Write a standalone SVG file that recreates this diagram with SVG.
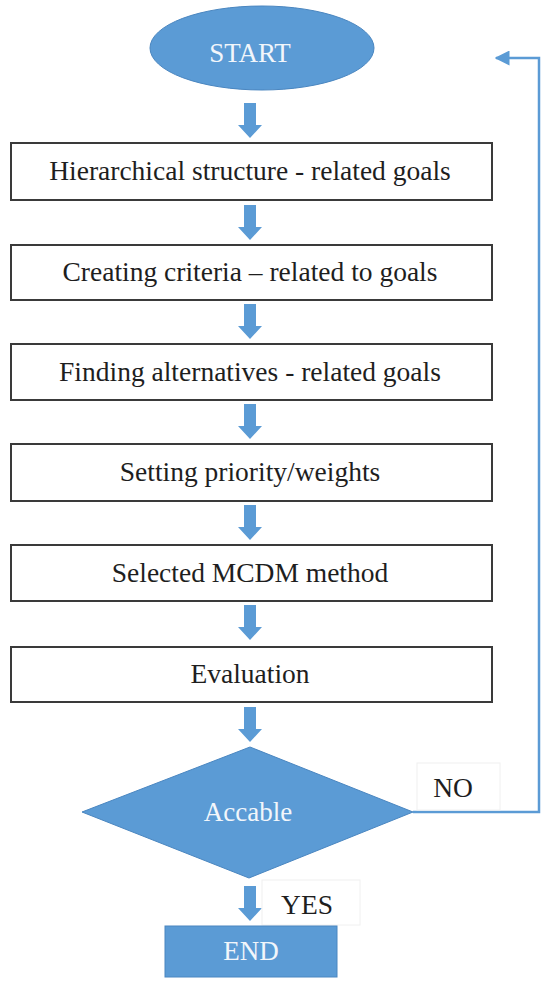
<svg xmlns="http://www.w3.org/2000/svg" width="550" height="988" viewBox="0 0 550 988">
<style>
.box{fill:#ffffff;stroke:#3a3a3a;stroke-width:2}
.shadow{fill:none;stroke:#9a9a9a;stroke-width:1.5}
.blue{fill:#5b9bd5;stroke:#4a86c0;stroke-width:1}
.t{font-family:"Liberation Serif","Times New Roman",serif;font-size:27.5px;fill:#1e1e1e;text-anchor:middle}
.tw{font-family:"Liberation Serif","Times New Roman",serif;font-size:27px;fill:#f2f6fb;text-anchor:middle}
.lbl{fill:#ffffff;stroke:#f0f0f0;stroke-width:1}
.conn{fill:none;stroke:#5b9bd5;stroke-width:2.5}
.ba{fill:#5b9bd5}
</style>
<defs>
<path id="dn" d="M -6 0 H 6 V 22 H 12 L 0 35 L -12 22 H -6 Z"/>
<marker id="ah" viewBox="0 0 10 10" refX="9" refY="5" markerWidth="6" markerHeight="6" markerUnits="strokeWidth" orient="auto">
<path d="M0 0 L10 5 L0 10 Z" fill="#5b9bd5"/>
</marker>
</defs>
<g id="connectors">
<use href="#dn" class="ba" x="250" y="103"/>
<use href="#dn" class="ba" x="250" y="205"/>
<use href="#dn" class="ba" x="250" y="304"/>
<use href="#dn" class="ba" x="250" y="404"/>
<use href="#dn" class="ba" x="250" y="505"/>
<use href="#dn" class="ba" x="250" y="605"/>
<use href="#dn" class="ba" x="250" y="707"/>
<use href="#dn" class="ba" x="250" y="886"/>
<polyline class="conn" points="413,812 539,812 539,58 496,58" marker-end="url(#ah)"/>
</g>
<g id="start">
<ellipse class="blue" cx="262" cy="48" rx="112" ry="42"/>
<text class="tw" x="250" y="62">START</text>
</g>
<g id="n1">
<rect class="box" x="11" y="143" width="481" height="57"/>
<text class="t" x="250" y="180">Hierarchical structure - related goals</text>
</g>
<g id="n2">
<rect class="box" x="11" y="245" width="481" height="55"/>
<text class="t" x="250" y="281">Creating criteria – related to goals</text>
</g>
<g id="n3">
<rect class="box" x="11" y="344" width="481" height="56"/>
<text class="t" x="250" y="381">Finding alternatives - related goals</text>
</g>
<g id="n4">
<rect class="box" x="11" y="444" width="481" height="57"/>
<text class="t" x="250" y="481">Setting priority/weights</text>
</g>
<g id="n5">
<rect class="box" x="11" y="545" width="481" height="56"/>
<text class="t" x="250" y="582">Selected MCDM method</text>
</g>
<g id="n6">
<rect class="box" x="11" y="647" width="481" height="55"/>
<text class="t" x="250" y="683">Evaluation</text>
</g>
<g id="decision">
<polygon class="blue" points="250,747 413,812 249,878 82,812"/>
<text class="tw" x="248" y="821">Accable</text>
</g>
<g id="no-label">
<rect class="lbl" x="417" y="763" width="83" height="47"/>
<text class="t" x="453" y="797">NO</text>
</g>
<g id="yes-label">
<rect class="lbl" x="262" y="880" width="98" height="45"/>
<text class="t" x="307" y="914">YES</text>
</g>
<g id="end">
<rect class="blue" x="165" y="926" width="172" height="51"/>
<text class="tw" x="251" y="960">END</text>
</g>
</svg>
